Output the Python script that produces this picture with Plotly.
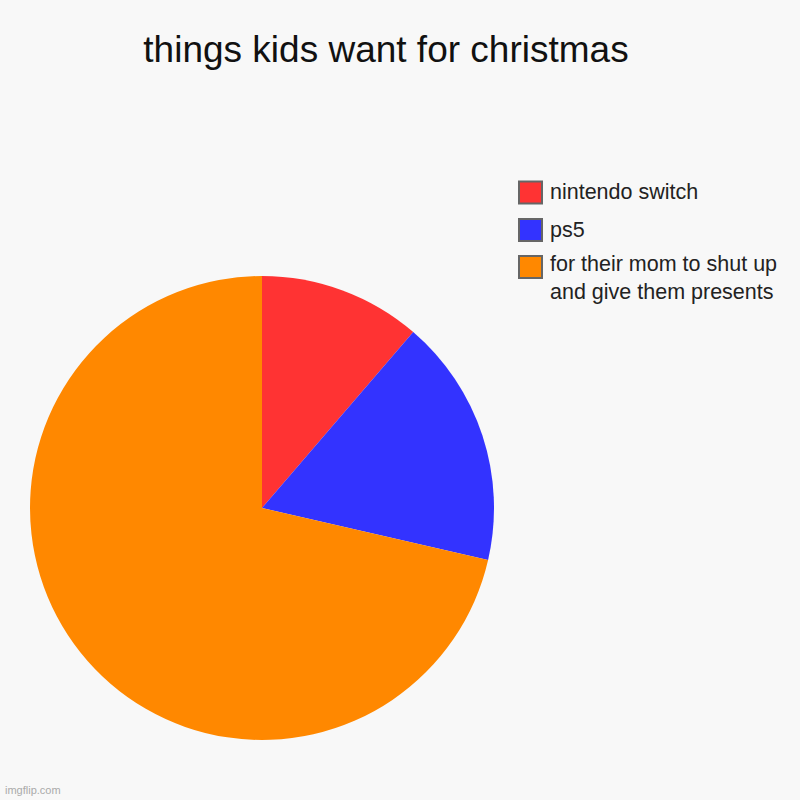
import plotly.graph_objects as go

labels = ["nintendo switch", "ps5", "for their mom to shut up<br>and give them presents"]
values = [11.3, 17.3, 71.4]
colors = ["#FF3333", "#3333FF", "#FF8800"]

fig = go.Figure()
fig.add_trace(go.Pie(
    labels=labels, values=values, sort=False, direction="clockwise", rotation=0,
    marker=dict(colors=colors, line=dict(width=0)),
    textinfo="none", hoverinfo="label+percent", showlegend=False,
    domain=dict(x=[30 / 800, 494 / 800], y=[60 / 800, 524 / 800]),
))

# legend drawn by hand so the swatches come out at the reference size
swatch_mid = [192.5, 230, 267]
text_mid = [192, 230, 278]
for lab, col, sm, tm in zip(labels, colors, swatch_mid, text_mid):
    fig.add_shape(type="rect", xref="paper", yref="paper",
                  x0=519 / 800, x1=542 / 800, y0=1 - (sm + 11) / 800, y1=1 - (sm - 11) / 800,
                  fillcolor=col, line=dict(color="#666666", width=2))
    fig.add_annotation(text=lab, xref="paper", yref="paper", x=548 / 800, y=1 - tm / 800,
                       xanchor="left", yanchor="middle", showarrow=False, align="left",
                       font=dict(family="Liberation Sans, Arial", size=21.5, color="#222222"))

fig.add_annotation(text="imgflip.com", xref="paper", yref="paper", x=3 / 800, y=1 - 798 / 800,
                   xanchor="left", yanchor="bottom", showarrow=False,
                   font=dict(family="Liberation Sans, Arial", size=11, color="#AAAAAA"))

fig.update_layout(
    width=800, height=800,
    margin=dict(l=0, r=0, t=0, b=0),
    paper_bgcolor="#F8F8F8", plot_bgcolor="#F8F8F8",
    title=dict(text="things kids want for christmas", x=386 / 800, xanchor="center", y=1 - 49 / 800, yanchor="middle",
               font=dict(family="Liberation Sans, Arial", size=37, color="#111111")),
)

fig.write_html("out.html", config={"displayModeBar": False},
               post_script="document.body.style.margin='0';")
